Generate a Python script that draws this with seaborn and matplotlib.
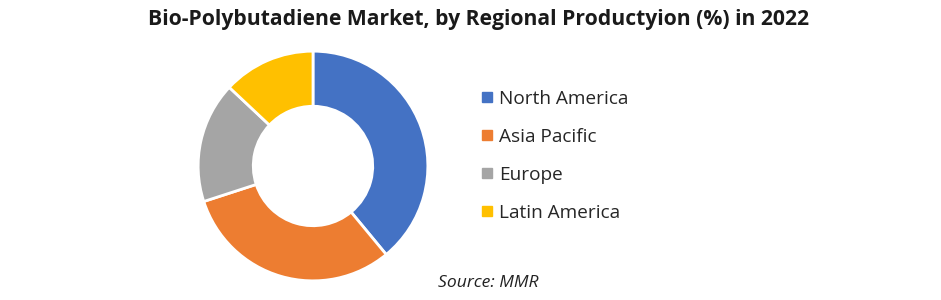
import matplotlib
matplotlib.use("Agg")
import matplotlib.pyplot as plt
import seaborn as sns
from matplotlib.lines import Line2D

regions = ["North America", "Asia Pacific", "Europe", "Latin America"]
shares = [39, 31, 17, 13]
colors = ["#4472C4", "#ED7D31", "#A5A5A5", "#FFC000"]
title = "Bio-Polybutadiene Market, by Regional Productyion (%) in 2022"
source = "Source: MMR"

sns.set_theme(style="white")
plt.rcParams['font.family'] = ['Open Sans', 'DejaVu Sans']

W, H = 941, 300
fig = plt.figure(figsize=(W / 100, H / 100), dpi=100)
fig.patch.set_facecolor("white")

cx, cy, r = 313, 166, 116
ax = fig.add_axes([(cx - r) / W, (H - cy - r) / H, 2 * r / W, 2 * r / H])
ax.pie(shares, colors=colors, startangle=90, counterclock=False, radius=1,
       wedgeprops=dict(width=0.48, edgecolor="white", linewidth=2))
ax.set_xlim(-1.01, 1.01)
ax.set_ylim(-1.01, 1.01)
ax.set_aspect("equal")
ax.axis("off")

handles = [Line2D([0], [0], marker="s", linestyle="none", markersize=7,
                  markerfacecolor=c, markeredgecolor=c) for c in colors]
fig.legend(handles, regions, loc="upper left", bbox_to_anchor=(470 / W, 1 - 82 / H),
           frameon=False, fontsize=13.7, labelspacing=1.06, handletextpad=0.12,
           handlelength=1.0, borderaxespad=0)

fig.text(479 / W, 1 - 19 / H, title, ha="center", va="center",
         fontsize=15.2, fontweight="bold", color="#1a1a1a")
fig.text(488 / W, 1 - 283 / H, source, ha="center", va="center",
         fontsize=12.6, style="italic", color="#222222")

fig.savefig("out.png", dpi=100, facecolor="white")
